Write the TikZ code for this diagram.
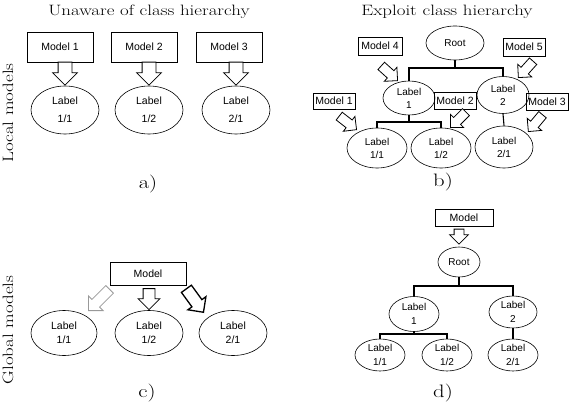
\documentclass[tikz,border=0pt]{standalone}
\usepackage{fontspec}
\setsansfont{Liberation Sans}
\usetikzlibrary{shapes.geometric,shapes.arrows}
\newcommand\wideser[2]{\scalebox{1.26}[1]{\fontsize{#1}{#1}\selectfont\addfontfeature{FakeBold=0.6}#2}}
\tikzset{
  box/.style={draw, line width=0.7pt, inner sep=0pt, font=\sffamily\fontsize{10.5}{12}\selectfont},
  lab/.style={draw, ellipse, line width=0.6pt, inner sep=0pt, align=center},
  blk/.style={single arrow, draw, fill=white, inner xsep=0pt, inner ysep=#1, minimum width=0pt, single arrow head indent=0pt, line width=0.8pt},
  tree/.style={line width=1.1pt},
  fa/.style={font=\sffamily\fontsize{10.5}{18}\selectfont},
  fb/.style={font=\sffamily\fontsize{10}{13}\selectfont},
  fc/.style={font=\sffamily\fontsize{10.5}{14}\selectfont},
  fd/.style={font=\sffamily\fontsize{10}{14}\selectfont},
}
\begin{document}
\begin{tikzpicture}[x=1pt,y=-1pt]
\useasboundingbox (0,0) rectangle (577,406);
% titles
\node (t1) at (149,12) {\wideser{15}{Unaware of class hierarchy}};
\node (t2) at (447,12) {\wideser{15}{Exploit class hierarchy}};
\node[rotate=90] (s1) at (8,113) {\wideser{15}{Local models}};
\node[rotate=90] (s2) at (8,330) {\wideser{15}{Global models}};
\node (la) at (148,184) {\wideser{18}{a)}};
\node (lb) at (443,182) {\wideser{18}{b)}};
\node (lc) at (147,393) {\wideser{18}{c)}};
\node (ld) at (443,393) {\wideser{18}{d)}};

% ---------- panel a ----------
\node[box, minimum width=66pt, minimum height=30pt] (ma1) at (60,47) {Model 1};
\node[box, minimum width=66pt, minimum height=30pt] (ma2) at (144,47) {Model 2};
\node[box, minimum width=66pt, minimum height=30pt] (ma3) at (229,47) {Model 3};
\node[lab, fa, minimum width=68pt, minimum height=48pt] (ea1) at (65,110) {Label\\1/1};
\node[lab, fa, minimum width=68pt, minimum height=48pt] (ea2) at (149,110) {Label\\1/2};
\node[lab, fa, minimum width=68pt, minimum height=48pt] (ea3) at (236,110) {Label\\2/1};
\foreach \e in {ea1,ea2,ea3}
  \node[blk=6.5pt, minimum height=23pt, single arrow head extend=5.5pt, rotate=-90, anchor=tip] (ar-\e) at (\e.north) {};

% ---------- panel b ----------
\node[lab, fb, minimum width=58pt, minimum height=34pt] (rb) at (455,43) {Root};
\node[lab, fb, minimum width=52pt, minimum height=34pt] (b1) at (409,98) {Label\\1};
\node[lab, fb, minimum width=52pt, minimum height=37pt] (b2) at (503,95) {Label\\2};
\node[lab, fb, minimum width=60pt, minimum height=40pt] (b11) at (377,148) {Label\\1/1};
\node[lab, fb, minimum width=60pt, minimum height=40pt] (b12) at (441,148) {Label\\1/2};
\node[lab, fb, minimum width=58pt, minimum height=42pt] (b21) at (504,147) {Label\\2/1};
\coordinate (jb) at (455,68);
\coordinate (jb1) at (409,122);
\draw[tree] (rb.south) -- (jb) -| (b1.north);
\draw[tree] (jb) -| (b2.north);
\draw[tree] (b1.south) -- (jb1) -| (b11.north);
\draw[tree] (jb1) -| (b12.north);
\draw[tree] (b2.south) -- (b21.north);
\node[box, minimum width=44pt, minimum height=18pt] (mb4) at (380,46) {Model 4};
\node[box, minimum width=42pt, minimum height=18pt] (mb5) at (524,47) {Model 5};
\node[box, minimum width=42pt, minimum height=16pt] (mb1) at (334,101) {Model 1};
\node[box, minimum width=42pt, minimum height=17pt] (mb2) at (455,101) {Model 2};
\node[box, minimum width=42pt, minimum height=17pt] (mb3) at (547,102) {Model 3};
\tikzset{bb/.style={blk=4.5pt, minimum height=22pt, single arrow head extend=4.5pt, anchor=tip}}
\node[bb, rotate=-42] (arb4) at (398,81) {};
\node[bb, rotate=-132] (arb5) at (518,78) {};
\node[bb, rotate=-38] (arb1) at (357,130) {};
\node[bb, rotate=-135] (arb2) at (450,128) {};
\node[bb, rotate=-130] (arb3) at (528,132) {};

% ---------- panel c ----------
\node[box, minimum width=76pt, minimum height=23pt] (mc) at (148,274) {Model};
\node[lab, fc, minimum width=66pt, minimum height=45pt] (c1) at (64,333) {Label\\1/1};
\node[lab, fc, minimum width=68pt, minimum height=45pt] (c2) at (149,333) {Label\\1/2};
\node[lab, fc, minimum width=68pt, minimum height=45pt] (c3) at (233,333) {Label\\2/1};
\node[blk=5.5pt, minimum height=21pt, single arrow head extend=5pt, rotate=-90, anchor=tip] (arc2) at (c2.north) {};
\node[blk=5pt, draw=black!40, minimum height=30pt, single arrow head extend=5pt, rotate=-135, anchor=tip] (arc1) at (88,311) {};
\node[blk=5.5pt, line width=1.3pt, minimum height=29pt, single arrow head extend=5pt, rotate=-54, anchor=tip] (arc3) at (204,313) {};

% ---------- panel d ----------
\node[box, minimum width=58pt, minimum height=17pt] (md) at (464,218) {Model};
\node[lab, fd, minimum width=42pt, minimum height=30pt] (rd) at (459,262) {Root};
\node[lab, fd, minimum width=50pt, minimum height=35pt] (d1) at (414,314) {Label\\1};
\node[lab, fd, minimum width=48pt, minimum height=32pt] (d2) at (513,312) {Label\\2};
\node[lab, fd, minimum width=50pt, minimum height=32pt] (d11) at (380,355) {Label\\1/1};
\node[lab, fd, minimum width=50pt, minimum height=32pt] (d12) at (447,355) {Label\\1/2};
\node[lab, fd, minimum width=50pt, minimum height=32pt] (d21) at (513,355) {Label\\2/1};
\coordinate (jd) at (459,286);
\coordinate (jd1) at (414,334);
\draw[tree] (rd.south) -- (jd) -| (d1.north);
\draw[tree] (jd) -| (d2.north);
\draw[tree] (d1.south) -- (jd1) -| (d11.north);
\draw[tree] (jd1) -| (d12.north);
\draw[tree] (d2.south) -- (d21.north);
\node[blk=4.5pt, minimum height=15pt, single arrow head extend=4.5pt, rotate=-90, anchor=tip] (ard) at ([yshift=2pt]rd.north) {};
\end{tikzpicture}
\end{document}
